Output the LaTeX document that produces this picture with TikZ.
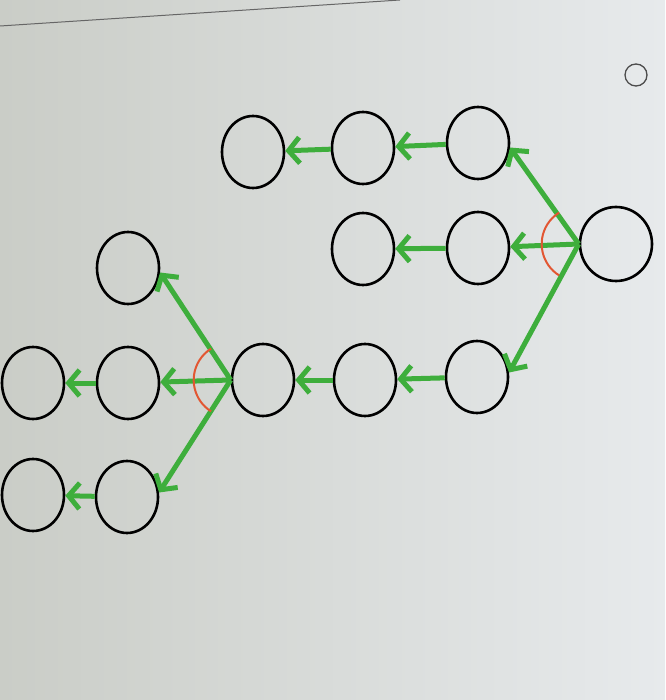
\documentclass[tikz,border=0pt]{standalone}
\usepackage{tikz}
\usetikzlibrary{arrows.meta,shapes.geometric,calc}
\definecolor{lnkgreen}{RGB}{62,174,60}
\definecolor{arcred}{RGB}{226,86,50}
\definecolor{bgl}{RGB}{202,205,199}
\definecolor{bgr}{RGB}{231,234,236}
\tikzset{
	state/.style={draw=black,ellipse,line width=2.6pt,
		minimum width=62pt,minimum height=72pt,inner sep=0pt},
	ln/.style={draw=lnkgreen,line width=5pt,
		-{Straight Barb[length=11pt,width=26pt]}},
	ang/.style={draw=arcred,line width=2pt},
	angrad/.store in=\angrad,
	angrad=37
}

\begin{document}
\begin{tikzpicture}[x=1pt,y=-1pt]
	\useasboundingbox (0,0) rectangle (665,700);
	\shade[left color=bgl,right color=bgr] (0,0) rectangle (665,700);
	\draw[black!60,line width=1pt] (0,26) -- (400,0);
	\node[draw=black!70,circle,line width=1.3pt,minimum size=22pt,inner sep=0pt] (radio) at (636,75) {};
	\node[state] (t1) at (253,152) {};
	\node[state] (t2) at (363,148) {};
	\node[state] (t3) at (478,143) {};
	\node[state] (m1) at (363,249) {};
	\node[state] (m2) at (478,248) {};
	\node[state,minimum width=72pt,minimum height=74pt] (r) at (616,244) {};
	\node[state] (b3) at (477,377) {};
	\node[state] (b2) at (365,380) {};
	\node[state] (b1) at (263,380) {};
	\node[state] (l1) at (128,268) {};
	\node[state] (l2) at (128,383) {};
	\node[state] (l3) at (33,383) {};
	\node[state] (l4) at (127,497) {};
	\node[state] (l5) at (33,495) {};
	\foreach \a/\b in {t3/t2,t2/t1,m2/m1,b3/b2,b2/b1,l2/l3,l4/l5}
		\draw[ln] (\a) -- (\b);
	\draw[ln] (r.west) -- (t3.-8);
	\draw[ln] (r.west) -- (m2);
	\draw[ln] (r.west) -- (b3.8);
	\draw[ln] (b1.west) -- (l1.-8);
	\draw[ln] (b1.west) -- (l2);
	\draw[ln] (b1.west) -- (l4.8);
	\draw[ang] (r.west) ++(122:\angrad) arc[start angle=122,end angle=238,radius=\angrad];
	\draw[ang] (b1.west) ++(122:\angrad) arc[start angle=122,end angle=238,radius=\angrad];
\end{tikzpicture}
\end{document}
